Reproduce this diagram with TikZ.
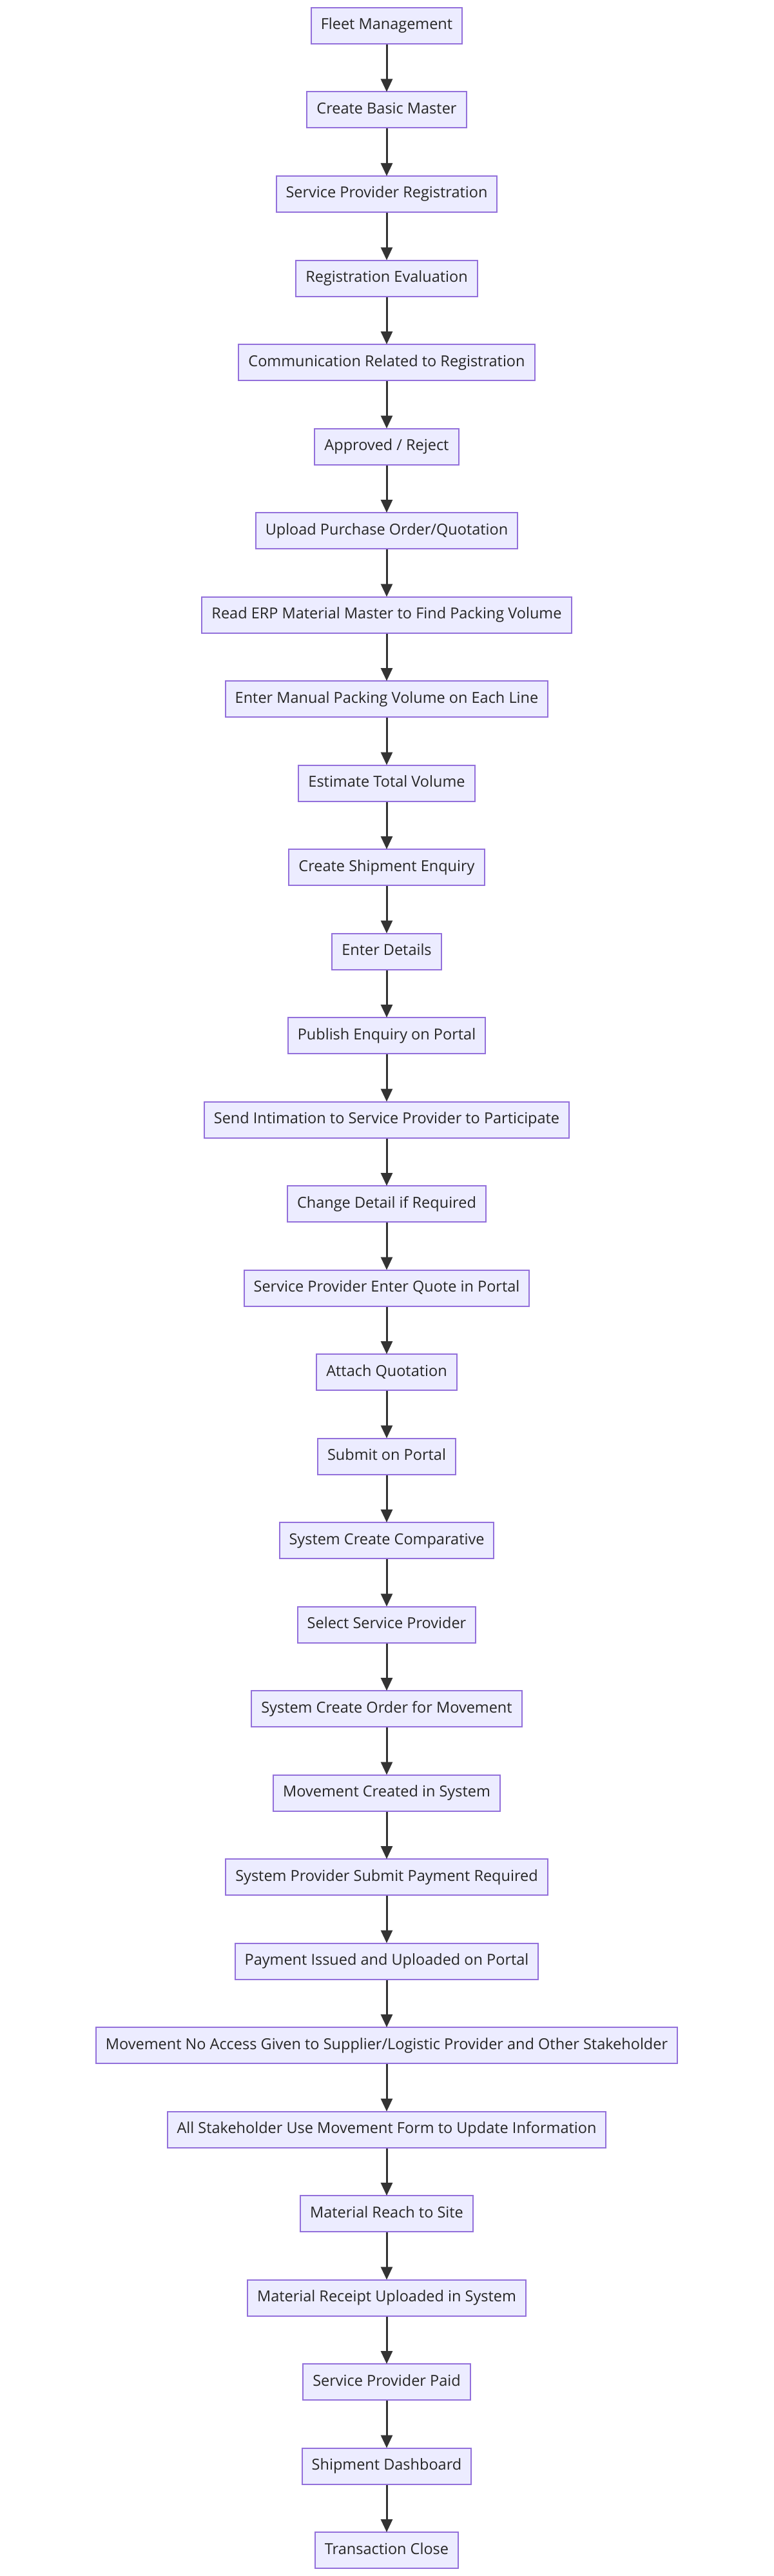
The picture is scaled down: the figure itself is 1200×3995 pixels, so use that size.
\documentclass[tikz,border=0pt]{standalone}
\usepackage{fontspec}
\setmainfont{Open Sans}
\usetikzlibrary{arrows.meta}
\definecolor{nfill}{HTML}{ECECFF}
\definecolor{nline}{HTML}{9370DB}
\definecolor{aline}{HTML}{333333}
\begin{document}
\begin{tikzpicture}[x=1pt,y=-1pt,
  box/.style={draw=nline,fill=nfill,line width=2pt,minimum height=56pt,inner xsep=15pt,inner ysep=0pt,
    font=\fontsize{23.5}{28}\selectfont,text=black!85,text height=17pt,text depth=5pt},
  arr/.style={draw=aline,line width=3pt,-{Triangle[length=20pt,width=18pt]},shorten >=-1pt}]
\useasboundingbox (0,0) rectangle (1200,3995);
\foreach \t [count=\i] in {Fleet Management,Create Basic Master,Service Provider Registration,Registration Evaluation,Communication Related to Registration,Approved / Reject,Upload Purchase Order/Quotation,Read ERP Material Master to Find Packing Volume,Enter Manual Packing Volume on Each Line,Estimate Total Volume,Create Shipment Enquiry,Enter Details,Publish Enquiry on Portal,Send Intimation to Service Provider to Participate,Change Detail if Required,Service Provider Enter Quote in Portal,Attach Quotation,Submit on Portal,System Create Comparative,Select Service Provider,System Create Order for Movement,Movement Created in System,System Provider Submit Payment Required,Payment Issued and Uploaded on Portal,Movement No Access Given to Supplier/Logistic Provider and Other Stakeholder,All Stakeholder Use Movement Form to Update Information,Material Reach to Site,Material Receipt Uploaded in System,Service Provider Paid,Shipment Dashboard,Transaction Close}
  \node[box] (n\i) at (600,{40+130.5*(\i-1)}) {\t};
\foreach \i [evaluate=\i as \j using int(\i+1)] in {1,...,30}
  \draw[arr] (n\i.south) -- (n\j.north);
\end{tikzpicture}
\end{document}
